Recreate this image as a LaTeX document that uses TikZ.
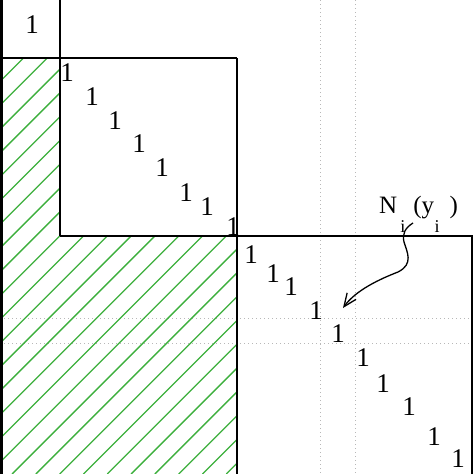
\documentclass[tikz,border=0pt]{standalone}
\usepackage{fontspec}
\setmainfont{Liberation Serif}
\usetikzlibrary{arrows.meta}
\tikzset{
  one/.style={inner sep=0pt, font=\fontsize{27}{29}\selectfont},
  box/.style={draw=black, line width=1.4pt},
  hatch/.style={draw={rgb,255:red,60;green,175;blue,60}, line width=1.3pt},
  grid/.style={draw=black!28, line width=1pt, dash pattern=on 1pt off 3pt},
  curvearrow/.style={draw=black, line width=1.3pt, -{Straight Barb[length=13pt,width=11pt,line width=1.3pt]}}
}
\begin{document}
\begin{tikzpicture}[x=1pt,y=-1pt]
\useasboundingbox (0,0) rectangle (474,474);
% dotted guide lines
\draw[grid] (320,0) -- (320,474);
\draw[grid] (355,0) -- (355,474);
\draw[grid] (0,318) -- (472,318);
\draw[grid] (0,343) -- (472,343);
% hatching
\begin{scope}
\clip (0,58) -- (60,58) -- (60,236) -- (237,236) -- (237,474) -- (0,474) -- cycle;
\foreach \k in {0,...,28} {
  \pgfmathsetmacro{\c}{81.5+23.8*\k-47.6}
  \draw[hatch] (\c,0) -- (\c-474,474);
}
\end{scope}
% boxes
\draw[draw=black, line width=3pt] (1.5,0) -- (1.5,474);
\draw[box] (60,0) -- (60,236);
\draw[box] (0,58) -- (237,58);
\draw[box] (237,58) -- (237,474);
\draw[box] (60,236) -- (472,236) -- (472,474);
% ones
\node[one] (n0) at (32,25) {1};
\node[one] (m1) at (67,73) {1};
\node[one] (m2) at (92,97) {1};
\node[one] (m3) at (115,121) {1};
\node[one] (m4) at (139,144) {1};
\node[one] (m5) at (162,168) {1};
\node[one] (m6) at (186,193) {1};
\node[one] (m7) at (207,207) {1};
\node[one] (m8) at (233,227) {1};
\node[one] (l1) at (251,255) {1};
\node[one] (l2) at (273,274) {1};
\node[one] (l3) at (291,287) {1};
\node[one] (l4) at (316,311) {1};
\node[one] (l5) at (338,334) {1};
\node[one] (l6) at (363,358) {1};
\node[one] (l7) at (383,384) {1};
\node[one] (l8) at (409,407) {1};
\node[one] (l9) at (434,437) {1};
\node[one] (l10) at (458,459) {1};
% label
\node[inner sep=0pt, anchor=base west, font=\fontsize{25}{27}\selectfont] (lab) at (379,213)
  {N\kern3pt\raisebox{-19pt}{\fontsize{18}{18}\selectfont i}\kern8pt(y\kern0.5pt\raisebox{-19pt}{\fontsize{18}{18}\selectfont i}\kern10pt)};
\coordinate (start) at (413,223);
\coordinate (tip) at (343,308);
\draw[curvearrow] (start) .. controls (405,228) and (402,234) .. (404,242)
  .. controls (407,252) and (414,264) .. (398,272)
  .. controls (380,279) and (356,290) .. (tip);
\end{tikzpicture}
\end{document}
